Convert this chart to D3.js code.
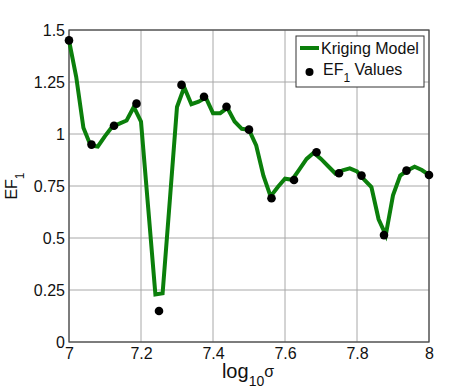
<!DOCTYPE html>
<html>
<head>
<meta charset="utf-8">
<script src="https://cdn.jsdelivr.net/npm/d3@7"></script>
<style>
  body { margin: 0; background: #fff; }
  text { font-family: "Liberation Sans", Arial, Helvetica, sans-serif; fill: #111; }
</style>
</head>
<body>
<svg id="chart" width="474" height="391"></svg>
<script>
// kriging model, sampled every 0.02
var modelX = [7.00, 7.02, 7.04, 7.06, 7.08, 7.10, 7.12, 7.14, 7.16, 7.18,
              7.20, 7.22, 7.24, 7.26, 7.28, 7.30, 7.32, 7.34, 7.36, 7.38,
              7.40, 7.42, 7.44, 7.46, 7.48, 7.50, 7.52, 7.54, 7.56, 7.58,
              7.60, 7.62, 7.64, 7.66, 7.68, 7.70, 7.72, 7.74, 7.76, 7.78,
              7.80, 7.82, 7.84, 7.86, 7.88, 7.90, 7.92, 7.94, 7.96, 7.98, 8.00];
var modelY = [1.45, 1.275, 1.03, 0.945, 0.94, 0.99, 1.035, 1.05, 1.065, 1.13,
              1.06, 0.645, 0.229, 0.234, 0.68, 1.13, 1.225, 1.143, 1.155, 1.175,
              1.10, 1.10, 1.125, 1.06, 1.025, 1.02, 0.945, 0.80, 0.70, 0.745,
              0.785, 0.78, 0.83, 0.88, 0.91, 0.88, 0.845, 0.81, 0.825, 0.835,
              0.82, 0.78, 0.745, 0.59, 0.515, 0.705, 0.80, 0.825, 0.843, 0.827, 0.803];

// EF1 sample values
var pointX = [7, 7.0625, 7.125, 7.1875, 7.25, 7.3125, 7.375, 7.4375, 7.5,
              7.5625, 7.625, 7.6875, 7.75, 7.8125, 7.875, 7.9375, 8];
var pointY = [1.45, 0.949, 1.04, 1.146, 0.149, 1.236, 1.179, 1.131, 1.021,
              0.691, 0.779, 0.912, 0.811, 0.80, 0.514, 0.824, 0.803];

var xTicks = [7, 7.2, 7.4, 7.6, 7.8, 8];
var xTickLabels = ["7", "7.2", "7.4", "7.6", "7.8", "8"];
var yTicks = [0, 0.25, 0.5, 0.75, 1, 1.25, 1.5];
var yTickLabels = ["0", "0.25", "0.5", "0.75", "1", "1.25", "1.5"];

var svg = d3.select("#chart"),
    pLeft = 69, pRight = 429, pTop = 30, pBottom = 342;

var x = d3.scaleLinear().domain([7, 8]).range([pLeft, pRight]);
var y = d3.scaleLinear().domain([0, 1.5]).range([pBottom, pTop]);

var green = "#0b7f0b";

// grid
svg.append("g").selectAll("line")
    .data(xTicks).enter().append("line")
    .attr("x1", d => x(d)).attr("x2", d => x(d))
    .attr("y1", pTop).attr("y2", pBottom)
    .attr("stroke", "#a8a8a8").attr("stroke-width", 1);

svg.append("g").selectAll("line")
    .data(yTicks).enter().append("line")
    .attr("x1", pLeft).attr("x2", pRight)
    .attr("y1", d => y(d)).attr("y2", d => y(d))
    .attr("stroke", "#a8a8a8").attr("stroke-width", 1);

// axes (tick labels only, frame drawn separately)
var xAxis = svg.append("g")
    .attr("transform", "translate(0," + pBottom + ")")
    .call(d3.axisBottom(x).tickValues(xTicks).tickSize(0).tickPadding(6)
      .tickFormat((d, i) => xTickLabels[i]));
xAxis.select(".domain").remove();
xAxis.selectAll("text").attr("font-size", "16px").attr("fill", "#111")
    .attr("font-family", "Liberation Sans, Arial, sans-serif");

var yAxis = svg.append("g")
    .attr("transform", "translate(" + pLeft + ",0)")
    .call(d3.axisLeft(y).tickValues(yTicks).tickSize(0).tickPadding(4)
      .tickFormat((d, i) => yTickLabels[i]));
yAxis.select(".domain").remove();
yAxis.selectAll("text").attr("font-size", "16px").attr("fill", "#111")
    .attr("font-family", "Liberation Sans, Arial, sans-serif");

svg.append("rect")
    .attr("x", pLeft).attr("y", pTop)
    .attr("width", pRight - pLeft).attr("height", pBottom - pTop)
    .attr("fill", "none").attr("stroke", "#444").attr("stroke-width", 1.2);

// kriging line
var line = d3.line()
    .x((d, i) => x(modelX[i]))
    .y(d => y(d));

svg.append("path")
    .datum(modelY)
    .attr("d", line)
    .attr("fill", "none")
    .attr("stroke", green)
    .attr("stroke-width", 4)
    .attr("stroke-linejoin", "miter");

// sample points
svg.append("g").selectAll("circle")
    .data(pointY).enter().append("circle")
    .attr("cx", (d, i) => x(pointX[i]))
    .attr("cy", d => y(d))
    .attr("r", 4.3)
    .attr("fill", "#000");

// legend
var lg = svg.append("g");
lg.append("rect")
    .attr("x", 296).attr("y", 36).attr("width", 128).attr("height", 51)
    .attr("fill", "#fff").attr("stroke", "#333").attr("stroke-width", 1);
lg.append("line")
    .attr("x1", 300).attr("x2", 319).attr("y1", 48).attr("y2", 48)
    .attr("stroke", green).attr("stroke-width", 4);
lg.append("text")
    .attr("x", 321).attr("y", 54).attr("font-size", "16px")
    .text("Kriging Model");
lg.append("circle")
    .attr("cx", 309.5).attr("cy", 72).attr("r", 4).attr("fill", "#000");
var lt = lg.append("text")
    .attr("x", 323).attr("y", 75).attr("font-size", "16px");
lt.append("tspan").text("EF");
lt.append("tspan").attr("font-size", "12px").attr("dy", 7).text("1");
lt.append("tspan").attr("dy", -7).text(" Values");

// axis titles
var xl = svg.append("text")
    .attr("x", 248).attr("y", 378)
    .attr("text-anchor", "middle").attr("font-size", "20px");
xl.append("tspan").text("log");
xl.append("tspan").attr("font-size", "14px").attr("dy", 8).text("10");
xl.append("tspan").attr("font-size", "16px").attr("dy", -9).text("σ");

var yl = svg.append("text")
    .attr("transform", "translate(17,186) rotate(-90)")
    .attr("text-anchor", "middle").attr("font-size", "16px");
yl.append("tspan").text("EF");
yl.append("tspan").attr("font-size", "12px").attr("dy", 7).text("1");
</script>
</body>
</html>
